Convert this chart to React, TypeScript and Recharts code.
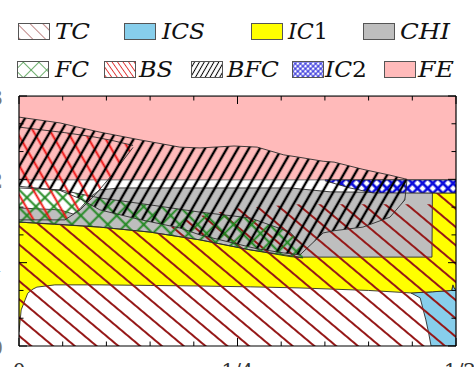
import React from 'react';
import { ComposedChart, Area, XAxis, YAxis } from 'recharts';

type Band = [number, number, number][]; // [x, lower, upper]

// x runs 0..10 on the grid, printed as 0 .. 1/2
const xTicks = [0, 1, 2, 3, 4, 5, 6, 7, 8, 9, 10];
const yTicks = [0, 1, 2, 3, 4, 5, 6, 7, 8, 9];
const xLabels: Record<number, string> = { 0: '0', 5: '1/4', 10: '1/2' };
const yLabels: Record<number, string> = { 0: '0', 3: '1', 6: '2', 9: '3' };

const feBand: Band = [[0, 5.98, 9], [10, 5.98, 9]];

const chiBand: Band = [
  [0, 3, 4.97], [0.94, 3, 4.9], [1.24, 3, 4.75], [1.4, 3, 4.95], [1.62, 3, 5.35],
  [1.85, 3, 5.62], [2.31, 3, 5.69], [6.2, 3, 5.69], [7.12, 3, 5.55], [9.55, 3, 5.51],
];

const icsBand: Band = [
  [8.97, 1.91, 1.91], [9.18, 1.73, 1.93], [9.25, 1.3, 1.93], [9.31, 0.94, 1.94],
  [9.37, 0.5, 1.94], [9.43, 0, 1.95], [9.9, 0, 2.0], [9.93, 0, 2.2], [9.97, 0, 2.05], [10, 0, 2.05],
];

const ic1Band: Band = [
  [0, 0.5, 4.46], [0.05, 1.3, 4.45], [0.14, 1.66, 4.45], [0.2, 1.9, 4.44], [0.32, 2.05, 4.43],
  [0.41, 2.12, 4.42], [0.82, 2.2, 4.38], [1.85, 2.2, 4.28], [3.0, 2.18, 4.1], [4.14, 2.16, 3.82],
  [5.29, 2.13, 3.46], [6.43, 2.09, 3.2], [8.0, 2.0, 3.2], [8.97, 1.91, 3.2], [9.45, 1.95, 3.2],
  [9.46, 1.95, 5.51], [9.9, 2.0, 5.51], [9.93, 2.2, 5.51], [9.97, 2.05, 5.51], [10, 2.05, 5.51],
];

const tcBand: Band = [
  [0, 0, 4.46], [1.85, 0, 4.28], [3.2, 0, 4.06], [3.9, 0, 4.6], [5.06, 0, 4.97],
  [6.43, 0, 5.1], [9.5, 0, 5.1], [9.52, 0, 5.51], [10, 0, 5.51],
];

const fcBand: Band = [
  [0, 4.46, 5.69], [0.94, 4.38, 5.62], [1.85, 4.28, 5.33], [3.0, 4.1, 5.08],
  [4.14, 3.82, 4.82], [5.29, 3.46, 4.61], [6.2, 3.22, 4.1], [6.5, 3.17, 3.6],
];

const bsBand: Band = [
  [0, 4.54, 7.88], [1.05, 4.54, 7.68], [1.4, 4.9, 7.6], [1.74, 5.44, 7.52],
  [2.13, 6.16, 7.4], [2.61, 7.15, 7.22],
];

const ic2Band: Band = [[7.0, 5.95, 5.98], [7.57, 5.69, 5.98], [8.1, 5.51, 5.98], [10, 5.51, 5.98]];

const bfcBand: Band = [
  [0, 5.75, 8.24], [0.94, 5.6, 8.03], [1.4, 5.3, 7.86], [1.85, 4.9, 7.7], [2.77, 4.55, 7.42],
  [3.68, 4.25, 7.16], [4.14, 4.0, 7.13], [4.92, 3.7, 7.2], [5.45, 3.5, 7.16], [6.06, 3.35, 6.88],
  [6.43, 3.28, 6.79], [6.96, 4.07, 6.65], [7.21, 4.15, 6.62], [7.87, 4.28, 6.36],
  [8.49, 4.64, 6.15], [8.83, 5.26, 6.02], [8.88, 6.0, 6.0],
];

const toRows = (band: Band) => band.map(([x, lo, hi]) => ({ x, r: [lo, hi] }));

const line = '#2b2b2b';
const layers = [
  { key: 'FE', band: feBand, fill: '#ffbaba', stroke: '#666' },
  { key: 'CHI', band: chiBand, fill: '#bebebe', stroke: line },
  { key: 'ICS', band: icsBand, fill: '#87ceeb', stroke: line },
  { key: 'IC1', band: ic1Band, fill: '#ffff00', stroke: line },
  { key: 'TC', band: tcBand, fill: 'url(#c-tc)', stroke: 'none' },
  { key: 'FC', band: fcBand, fill: 'url(#c-fc)', stroke: line },
  { key: 'BS', band: bsBand, fill: 'url(#c-bs)', stroke: line },
  { key: 'IC2', band: ic2Band, fill: 'url(#c-ic2)', stroke: line },
  { key: 'BFC', band: bfcBand, fill: 'url(#c-bfc)', stroke: line },
];

function Hatch({ id, size, angle, color, width }: { id: string; size: number; angle: number; color: string; width: number }) {
  return (
    <pattern id={id} width={size} height={size} patternUnits="userSpaceOnUse" patternTransform={`rotate(${angle})`}>
      <line x1={size / 2} y1={0} x2={size / 2} y2={size} stroke={color} strokeWidth={width} />
    </pattern>
  );
}

function Cross({ id, size, color, width, bg }: { id: string; size: number; color: string; width: number; bg?: string }) {
  return (
    <pattern id={id} width={size} height={size} patternUnits="userSpaceOnUse" patternTransform="rotate(45)">
      {bg && <rect width={size} height={size} fill={bg} />}
      <path d={`M${size / 2} 0V${size}M0 ${size / 2}H${size}`} stroke={color} strokeWidth={width} />
    </pattern>
  );
}

const BottomTick = ({ x, y, payload }: any) => {
  const v = payload.value;
  const major = v % 5 === 0;
  return (
    <g>
      <line x1={x} x2={x} y1={y} y2={y - (major ? 8 : 4.5)} stroke="#000" strokeWidth={1} />
      {xLabels[v] && (
        <text x={x + (v === 10 ? 4 : 0)} y={y + 32} textAnchor="middle" fontFamily="DejaVu Serif" fontSize={20} fill="#333">
          {xLabels[v]}
        </text>
      )}
    </g>
  );
};

const TopTick = ({ x, y, payload }: any) => (
  <line x1={x} x2={x} y1={y} y2={y + (payload.value % 5 === 0 ? 8 : 4.5)} stroke="#000" strokeWidth={1} />
);

const LeftTick = ({ x, y, payload }: any) => {
  const v = payload.value;
  return (
    <g>
      <line x1={x} x2={x + (v % 3 === 0 ? 8 : 4.5)} y1={y} y2={y} stroke="#000" strokeWidth={1} />
      {yLabels[v] && (
        <text x={x - 16} y={y + 2} dy="0.35em" textAnchor="end" fontFamily="DejaVu Serif" fontSize={20} fill="#777">
          {yLabels[v]}
        </text>
      )}
    </g>
  );
};

const RightTick = ({ x, y, payload }: any) => (
  <line x1={x} x2={x - (payload.value % 3 === 0 ? 8 : 4.5)} y1={y} y2={y} stroke="#000" strokeWidth={1} />
);

const legendRow1 = ['TC', 'ICS', 'IC1', 'CHI'];
const legendRow2 = ['FC', 'BS', 'BFC', 'IC2', 'FE'];
const legendFill: Record<string, string> = {
  TC: 'url(#l-tc)', ICS: '#87ceeb', IC1: '#ffff00', CHI: '#bebebe',
  FC: 'url(#l-fc)', BS: 'url(#l-bs)', BFC: 'url(#l-bfc)', IC2: 'url(#l-ic2)', FE: '#ffbaba',
};
// swatch left, text left, text width
const legendPos1 = [[18, 55, 35], [124, 162, 43], [251, 288, 40], [363, 400, 50]];
const legendPos2 = [[17, 55, 34], [104, 139, 34], [191, 227, 52], [292, 325, 42], [384, 418, 36]];

function LegendItem({ name, pos, y }: { name: string; pos: number[]; y: number }) {
  const digit = /\d$/.test(name);
  return (
    <g>
      <rect x={pos[0] + 0.5} y={y + 0.5} width={31} height={16} fill={legendFill[name]} stroke="#555" strokeWidth={1} />
      <text x={pos[1]} y={y + 15.5} fontFamily="DejaVu Serif" fontStyle="italic" fontSize={22}
        textLength={pos[2]} lengthAdjust="spacingAndGlyphs" fill="#111">
        {digit ? name.slice(0, -1) : name}
        {digit && <tspan fontStyle="normal">{name.slice(-1)}</tspan>}
      </text>
    </g>
  );
}

export default function App() {
  return (
    <div style={{ position: 'absolute', left: 0, top: 0, width: 474, height: 367, background: '#fff' }}>
      <ComposedChart width={474} height={367} margin={{ top: 0, right: 0, bottom: 0, left: 0 }}>
        <defs>
          <Hatch id="c-tc" size={14} angle={-50} color="#961818" width={2} />
          <Hatch id="c-bs" size={14.7} angle={-30} color="#f01010" width={1.9} />
          <Hatch id="c-bfc" size={9.5} angle={30} color="#000" width={2.4} />
          <Cross id="c-fc" size={12.7} color="#1e881e" width={1.9} />
          <Cross id="c-ic2" size={7.2} color="#0a0adc" width={2.6} bg="#fff" />
        </defs>
        {layers.map((l) => (
          <Area
            key={l.key}
            name={l.key}
            data={toRows(l.band)}
            dataKey="r"
            type="linear"
            fill={l.fill}
            fillOpacity={1}
            stroke={l.stroke}
            strokeWidth={0.9}
            dot={false}
            activeDot={false}
            isAnimationActive={false}
          />
        ))}
        <XAxis dataKey="x" type="number" domain={[0, 10]} ticks={xTicks} interval={0} height={21}
          allowDataOverflow tickSize={0} tickMargin={0} tickLine={false} tick={BottomTick}
          axisLine={{ stroke: '#000', strokeWidth: 1.2 }} />
        <XAxis xAxisId="top" orientation="top" dataKey="x" type="number" domain={[0, 10]} ticks={xTicks}
          interval={0} height={96} allowDataOverflow tickSize={0} tickMargin={0} tickLine={false} tick={TopTick}
          axisLine={{ stroke: '#000', strokeWidth: 1.2 }} />
        <YAxis type="number" domain={[0, 9]} ticks={yTicks} interval={0} width={19} allowDataOverflow
          tickSize={0} tickMargin={0} tickLine={false} tick={LeftTick} axisLine={{ stroke: '#000', strokeWidth: 1.2 }} />
        <YAxis yAxisId="right" orientation="right" type="number" domain={[0, 9]} ticks={yTicks} interval={0}
          width={18} allowDataOverflow tickSize={0} tickMargin={0} tickLine={false} tick={RightTick}
          axisLine={{ stroke: '#000', strokeWidth: 1.2 }} />
      </ComposedChart>
      <svg width={474} height={90} style={{ position: 'absolute', left: 0, top: 0 }}>
        <defs>
          <Hatch id="l-tc" size={9} angle={-45} color="#b06a6a" width={0.8} />
          <Hatch id="l-bs" size={4.5} angle={-35} color="#e03030" width={0.9} />
          <Hatch id="l-bfc" size={4.2} angle={30} color="#000" width={1} />
          <Cross id="l-fc" size={11} color="#4a9a4a" width={0.8} />
          <Cross id="l-ic2" size={3.6} color="#1a1ad8" width={1} bg="#fff" />
        </defs>
        {legendRow1.map((n, i) => <LegendItem key={n} name={n} pos={legendPos1[i]} y={23} />)}
        {legendRow2.map((n, i) => <LegendItem key={n} name={n} pos={legendPos2[i]} y={61} />)}
      </svg>
    </div>
  );
}
